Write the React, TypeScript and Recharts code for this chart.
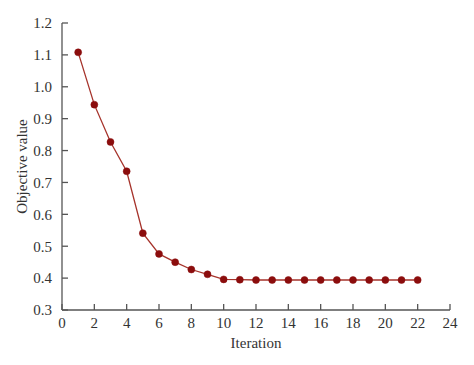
import { LineChart, Line, XAxis, YAxis } from 'recharts'

const iterations = [1, 2, 3, 4, 5, 6, 7, 8, 9, 10, 11, 12, 13, 14, 15, 16, 17, 18, 19, 20, 21, 22]
const objective = [
  1.108, 0.944, 0.827, 0.735, 0.541, 0.476, 0.45, 0.427, 0.412, 0.396, 0.395,
  0.394, 0.394, 0.394, 0.394, 0.394, 0.394, 0.394, 0.394, 0.394, 0.394, 0.394,
]
const xTicks = [0, 2, 4, 6, 8, 10, 12, 14, 16, 18, 20, 22, 24]
const yTicks = [0.3, 0.4, 0.5, 0.6, 0.7, 0.8, 0.9, 1.0, 1.1, 1.2]

const data = iterations.map((it, i) => ({ it, value: objective[i] }))

const FONT = '"Liberation Serif", "DejaVu Serif", serif'
const AXIS = '#555'

export default function App() {
  return (
    <div style={{ position: 'absolute', left: 0, top: 0, background: '#fff' }}>
      <LineChart
        width={474}
        height={365}
        data={data}
        margin={{ top: 23, right: 24, bottom: 54, left: 61 }}
      >
        <XAxis
          type="number"
          dataKey="it"
          domain={[0, 24]}
          ticks={xTicks}
          height={1}
          tickSize={-6}
          tickMargin={13}
          stroke={AXIS}
          strokeWidth={1.3}
          tick={{ fill: '#333', fontSize: 15, fontFamily: FONT }}
          interval={0}
          label={{
            content: ({ viewBox }: any) => (
              <text
                x={viewBox.x + viewBox.width / 2}
                y={viewBox.y + 38}
                textAnchor="middle"
                fill="#333"
                fontSize={15}
                fontFamily={FONT}
              >
                Iteration
              </text>
            ),
          }}
        />
        <YAxis
          type="number"
          domain={[0.3, 1.2]}
          ticks={yTicks}
          width={1}
          tickSize={-6}
          tickMargin={16}
          stroke={AXIS}
          strokeWidth={1.3}
          interval={0}
          tickFormatter={(v: number) => v.toFixed(1)}
          tick={{ fill: '#333', fontSize: 15, fontFamily: FONT }}
          label={{
            content: ({ viewBox }: any) => {
              const cx = viewBox.x - 34
              const cy = viewBox.y + viewBox.height / 2
              return (
                <text
                  x={cx}
                  y={cy}
                  transform={`rotate(-90, ${cx}, ${cy})`}
                  textAnchor="middle"
                  fill="#333"
                  fontSize={15}
                  fontFamily={FONT}
                >
                  Objective value
                </text>
              )
            },
          }}
        />
        <Line
          type="linear"
          dataKey="value"
          stroke="#a6332b"
          strokeWidth={1.3}
          dot={{ r: 3.5, fill: '#8b0d0d', stroke: '#8b0d0d', strokeWidth: 0.5 }}
          isAnimationActive={false}
        />
      </LineChart>
    </div>
  )
}
